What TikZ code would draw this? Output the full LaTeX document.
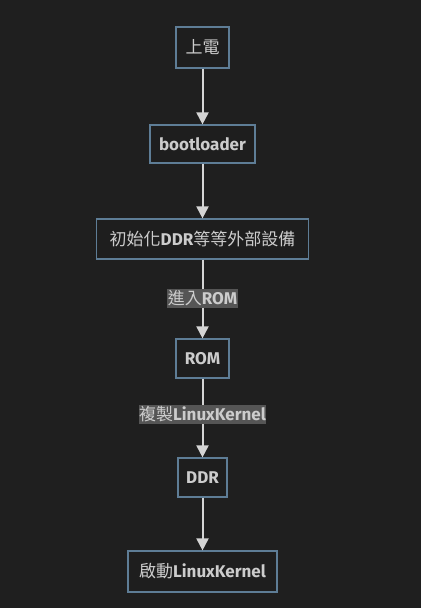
\documentclass[tikz,border=0pt]{standalone}
\usepackage{fontspec}
\setmainfont{Fira Sans}
\newfontfamily\cjk{Noto Sans CJK TC}
\usetikzlibrary{arrows.meta}
\definecolor{bg}{HTML}{1F1F1F}
\definecolor{nodefill}{HTML}{1E1E1E}
\definecolor{nodeborder}{HTML}{5E7D96}
\definecolor{txt}{HTML}{CCCCCC}
\definecolor{edge}{HTML}{D4D4D4}
\definecolor{lblbg}{HTML}{555555}
\newcommand{\cj}[1]{{\cjk\mdseries #1}}
\tikzset{
  box/.style={draw=nodeborder, line width=1.2pt, fill=nodefill, text=txt,
    font=\fontsize{17}{19}\selectfont\bfseries, minimum height=40pt, inner sep=0pt},
  conn/.style={draw=edge, line width=2pt, -{Triangle[width=12pt,length=12pt]}},
  lbl/.style={fill=lblbg, text=txt, font=\fontsize{17}{19}\selectfont\bfseries,
    inner xsep=0.5pt, inner ysep=0pt, minimum height=19pt}
}
\begin{document}
\begin{tikzpicture}[x=1pt,y=-1pt]
\fill[bg] (0,0) rectangle (421,608);
\useasboundingbox (0,0) rectangle (421,608);
\node[box, minimum width=53pt, minimum height=41pt] (n1) at (202.5,47.5) {\cj{上電}};
\node[box, minimum width=105pt, minimum height=38pt] (n2) at (202.5,144) {bootloader};
\node[box, minimum width=212pt] (n3) at (202.5,239) {\cj{初始化}DDR\cj{等等外部設備}};
\node[box, minimum width=53pt, minimum height=39pt] (n4) at (202.5,358.5) {ROM};
\node[box, minimum width=49pt, minimum height=39pt] (n5) at (202.5,477.5) {DDR};
\node[box, minimum width=149pt, minimum height=41pt] (n6) at (202.5,571.5) {\cj{啟動}LinuxKernel};
\draw[conn] (n1) -- (n2);
\draw[conn] (n2) -- (n3);
\draw[conn] (n3) -- node[lbl, pos=0.49] (l1) {\cj{進入}ROM} (n4);
\draw[conn] (n4) -- node[lbl, pos=0.45] (l2) {\cj{複製}LinuxKernel} (n5);
\draw[conn] (n5) -- (n6);
\end{tikzpicture}
\end{document}
